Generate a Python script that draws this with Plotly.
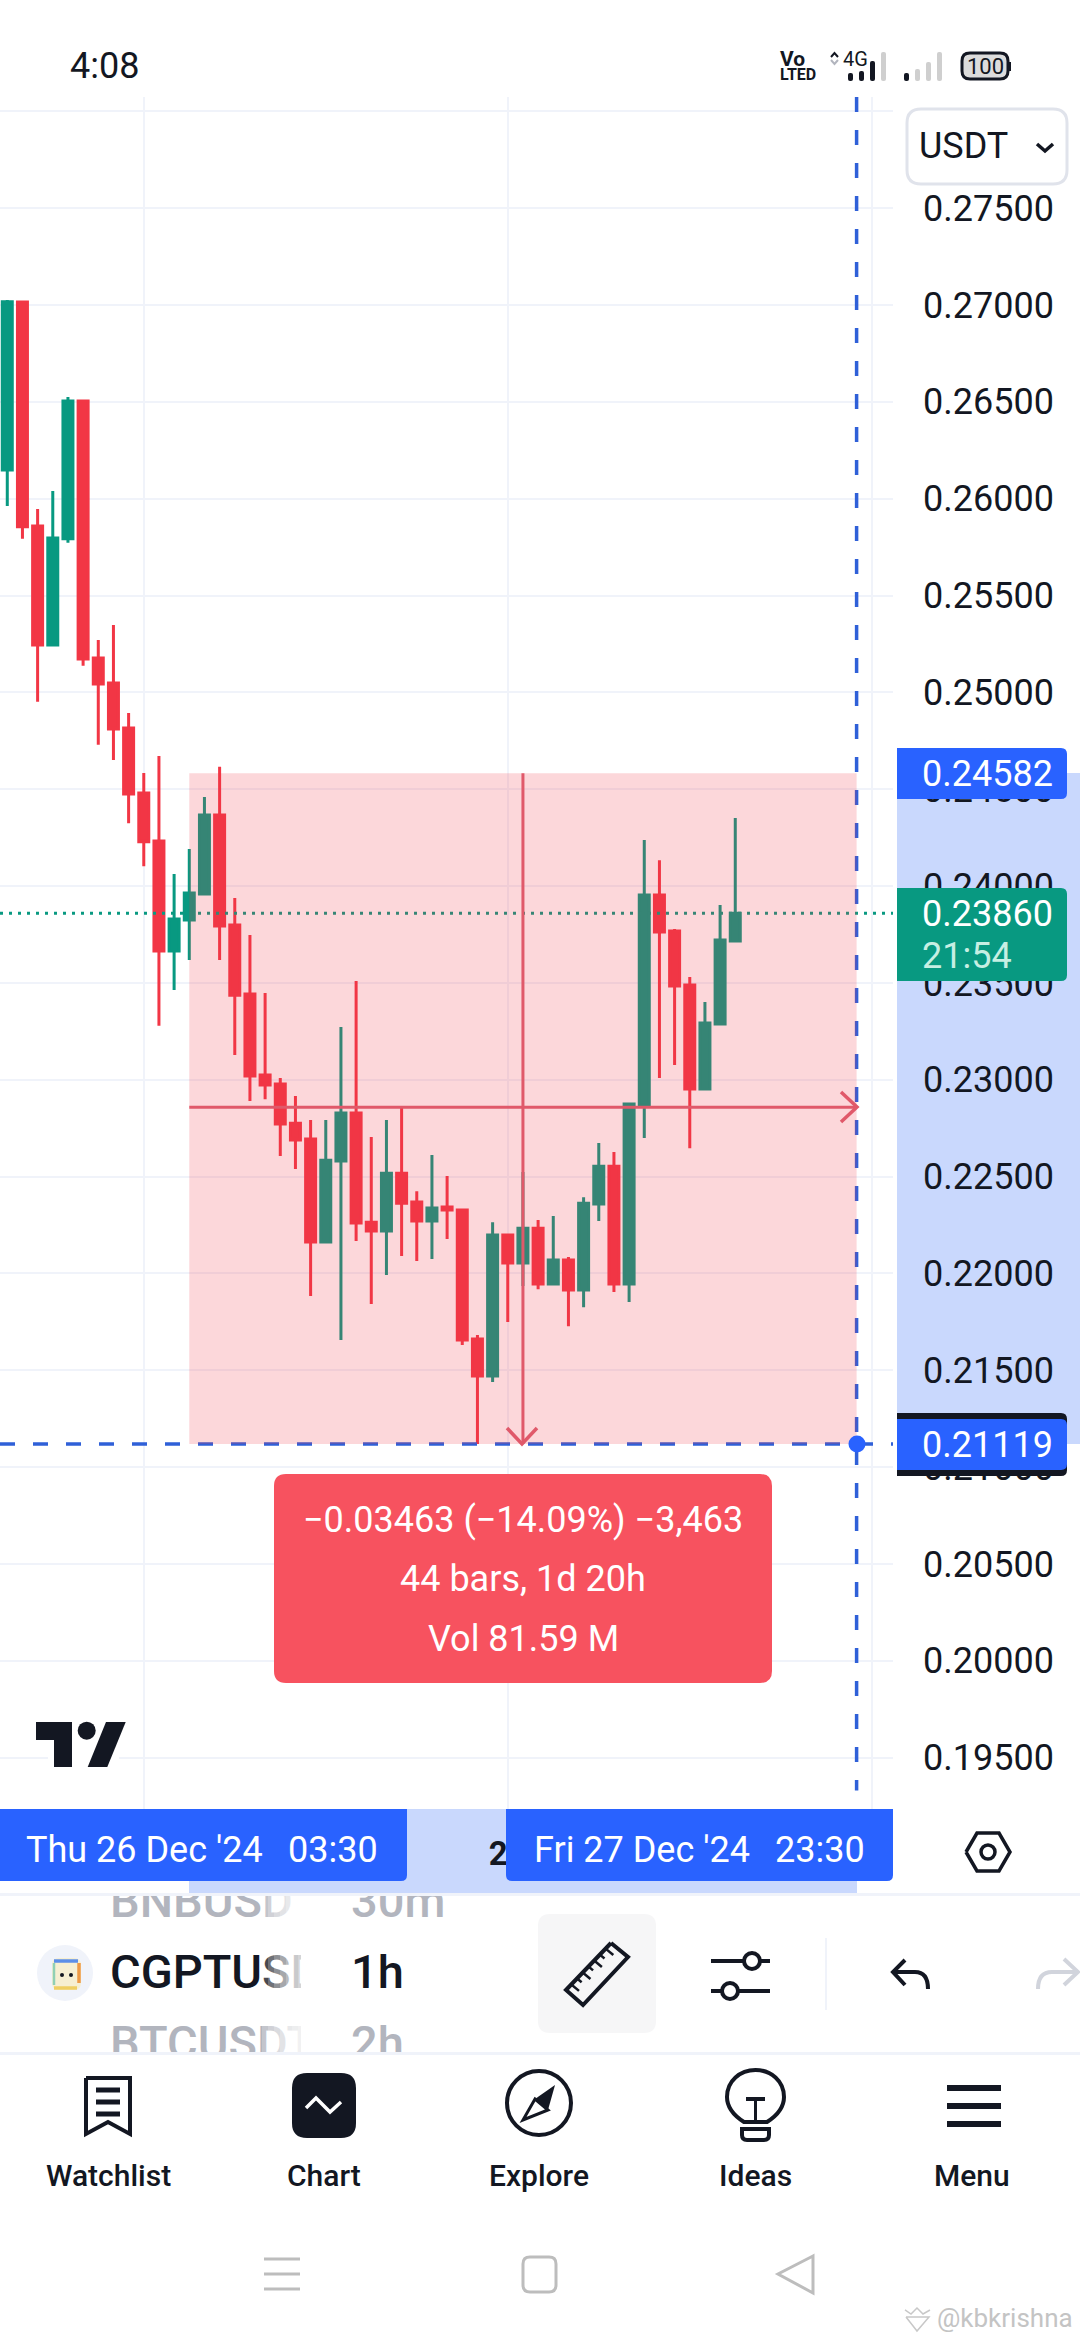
import pandas as pd
import plotly.graph_objects as go

# CGPTUSDT hourly candles
first_bar = "2024-12-25 15:30"
opens = [.26148, .27015, .25859, .25245, .25793, .26504, .25177, .25048, .24816, .24480,
         .24233, .23665, .23825, .23959, .24367, .23799, .23443, .23024, .22978, .22776,
         .22694, .22162, .22580, .22828, .22265, .22219, .22518, .22369, .22271, .22343,
         .22327, .21661, .21470, .22198, .22054, .22234, .21945, .22069, .21914, .22358,
         .22554, .21945, .22869, .23954, .23768, .23489, .22952, .23288, .23716]
highs = [.27026, .27015, .25947, .26040, .26525, .26504, .25270, .25348, .24893, .24584,
         .24671, .24062, .24191, .24460, .24616, .23938, .23747, .23448, .23009, .22916,
         .22792, .22792, .23272, .23510, .22704, .22792, .22859, .22425, .22611, .22503,
         .22332, .21682, .22265, .22198, .22524, .22276, .22296, .22085, .22394, .22673,
         .22627, .22875, .24238, .24134, .23778, .23530, .23401, .23902, .24351]
lows = [.25962, .25793, .24952, .25245, .25773, .25138, .24730, .24651, .24325, .24103,
        .23279, .23463, .23618, .23959, .23618, .23128, .22890, .22900, .22606, .22539,
        .21883, .22162, .21656, .22167, .21842, .21992, .22090, .22064, .22074, .22178,
        .21630, .21119, .21439, .21749, .21935, .21919, .21945, .21728, .21826, .22271,
        .21904, .21852, .22699, .23009, .23076, .22647, .22952, .23288, .23716]
closes = [.27017, .25855, .25245, .25797, .26504, .25172, .25043, .24811, .24475, .24229,
          .23665, .23830, .23964, .24367, .23794, .23437, .23019, .22973, .22771, .22689,
          .22162, .22585, .22828, .22260, .22219, .22518, .22363, .22271, .22338, .22327,
          .21656, .21470, .22198, .22054, .22234, .21945, .22069, .21914, .22363, .22554,
          .21945, .22875, .23954, .23763, .23484, .22952, .23293, .23721, .23860]

price_ticks = [.195, .200, .205, .210, .215, .220, .225, .230, .235, .240, .245, .250,
               .255, .260, .265, .270, .275, .280]
price_labels = [f"{p:.5f}" for p in price_ticks[:-1]] + [""]
day_ticks = ["2024-12-26 00:30", "2024-12-27 00:30", "2024-12-28 00:30"]
day_labels = ["<b>26</b>", "<b>27</b>", "<b>28</b>"]

measure_start = "2024-12-26 03:30"
measure_mid = "2024-12-27 01:30"
measure_end = "2024-12-27 23:30"
measure_high = 0.24582
measure_low = 0.21119
measure_centre = 0.22858
last_price = 0.23860

wheel_symbols = ["BNBUSD", "CGPTUSDT", "BTCUSDT"]
wheel_intervals = ["30m", "1h", "2h"]
nav_labels = ["Watchlist", "Chart", "Explore", "Ideas", "Menu"]

W, H = 1080, 2340
INK = "#131722"
BLUE = "#2962ff"
DASH_BLUE = "#2f60d8"
GREEN = "#089981"
RED = "#f23645"
PALE_BLUE = "#c9d8fd"
GRID = "#f0f3fa"
NAV_GREY = "#bdbdbd"


def fx(x):
    return x / W


def fy(y):
    return 1 - y / H


def path(*cmds):
    out = []
    for c in cmds:
        nums = c[1:]
        pairs = [f"{fx(nums[i]):.6f},{fy(nums[i + 1]):.6f}" for i in range(0, len(nums), 2)]
        out.append(c[0] + " ".join(pairs))
    return " ".join(out)


shapes = []
texts = []


def draw(p, fill=None, line=None, lw=0, layer="above"):
    shapes.append(dict(type="path", path=p, xref="paper", yref="paper", layer=layer,
                       fillcolor=fill or "rgba(0,0,0,0)",
                       line=dict(color=line or "rgba(0,0,0,0)", width=lw)))


def box(x0, y0, x1, y1, fill=None, line=None, lw=0, layer="above"):
    draw(path(("M", x0, y0), ("L", x1, y0), ("L", x1, y1), ("L", x0, y1), ("Z",)),
         fill, line, lw, layer)


def rbox(x0, y0, x1, y1, r, fill=None, line=None, lw=0, corners="tl tr br bl"):
    tl, tr, br, bl = [r if k in corners else 0 for k in ("tl", "tr", "br", "bl")]
    draw(path(("M", x0 + tl, y0), ("L", x1 - tr, y0), ("Q", x1, y0, x1, y0 + tr),
              ("L", x1, y1 - br), ("Q", x1, y1, x1 - br, y1),
              ("L", x0 + bl, y1), ("Q", x0, y1, x0, y1 - bl),
              ("L", x0, y0 + tl), ("Q", x0, y0, x0 + tl, y0), ("Z",)),
         fill, line, lw)


def stroke(points, color=INK, lw=4):
    cmds = [("M", *points[0])] + [("L", *p) for p in points[1:]]
    draw(path(*cmds), None, color, lw)


def disc(cx, cy, r, fill=None, line=None, lw=0):
    shapes.append(dict(type="circle", xref="paper", yref="paper", layer="above",
                       x0=fx(cx - r), x1=fx(cx + r), y0=fy(cy + r), y1=fy(cy - r),
                       fillcolor=fill or "rgba(0,0,0,0)",
                       line=dict(color=line or "rgba(0,0,0,0)", width=lw)))


def label(x, y, text, size=36, color=INK, anchor="left", weight=400):
    texts.append(dict(x=fx(x), y=fy(y), xref="paper", yref="paper", text=text, showarrow=False,
                      xanchor=anchor, yanchor="middle", borderpad=0, borderwidth=0,
                      font=dict(family="Roboto", size=size, color=color, weight=weight)))


def on_chart(x0, y0, x1, y1, color, width, dash="solid"):
    shapes.append(dict(type="line", xref="x", yref="y", layer="above", x0=x0, x1=x1, y0=y0, y1=y1,
                       line=dict(color=color, width=width, dash=dash)))


# Highlights on the two axes, beneath the tick labels
box(897, 773, 1080, 1444, PALE_BLUE, layer="below")
box(189, 1809, 857, 1893, PALE_BLUE, layer="below")

chart_left = pd.Timestamp(first_bar) - pd.Timedelta(hours=0.48)
chart_right = pd.Timestamp(first_bar) + pd.Timedelta(hours=58.4)

# Last price, then the measuring overlay
on_chart(chart_left, last_price, chart_right, last_price, GREEN, 3, "3px,6px")
DASH = "15px,18px"
on_chart(measure_end, 0.28074, measure_end, 0.1933, DASH_BLUE, 3.5, DASH)
on_chart(chart_left, measure_low, chart_right, measure_low, DASH_BLUE, 3.5, DASH)
shapes.append(dict(type="rect", xref="x", yref="y", layer="above", x0=measure_start, x1=measure_end,
                   y0=measure_low, y1=measure_high, fillcolor="rgba(242,54,69,0.2)",
                   line=dict(width=0)))
on_chart(measure_start, measure_centre, measure_end, measure_centre, "#e0596a", 3)
on_chart(measure_mid, measure_high, measure_mid, measure_low, "#e0596a", 3)
stroke([(841, 1092), (857, 1107), (841, 1122)], "#e0596a", 3.5)
stroke([(507, 1428), (522, 1444), (537, 1428)], "#e0596a", 3.5)
disc(857, 1444, 8.5, BLUE)

# Broker logo on a clear patch of the pane
box(48, 1748, 119, 1770, "#ffffff")
draw(path(("M", 36, 1722), ("L", 72, 1722), ("L", 72, 1767), ("L", 54, 1767), ("L", 54, 1740),
          ("L", 36, 1740), ("Z",)), INK)
disc(86.7, 1730.7, 9, INK)
draw(path(("M", 106, 1722), ("L", 125.7, 1722), ("L", 107.3, 1767), ("L", 87.7, 1767), ("Z",)), INK)

# Measure result card
rbox(274, 1474, 772, 1683, 12, "#f7525f")
label(523, 1520, "−0.03463 (−14.09%) −3,463", 36, "#ffffff", "center")
label(523, 1579, "44 bars, 1d 20h", 36, "#ffffff", "center")
label(523, 1639, "Vol 81.59 M", 36, "#ffffff", "center")

# Price tags over the axis
rbox(897, 748, 1067, 799, 6, BLUE, corners="tr br")
label(922, 774, f"{measure_high:.5f}", 36, "#ffffff")
rbox(897, 888, 1067, 981, 6, GREEN, corners="tr br")
label(922, 914, f"{last_price:.5f}", 36, "#ffffff")
label(922, 956, "21:54", 36, "#c6efe3")
rbox(897, 1413, 1067, 1476, 6, INK, corners="tr br")
rbox(897, 1419, 1067, 1470, 6, BLUE, corners="tr br")
label(922, 1445, f"{measure_low:.5f}", 36, "#ffffff")

# Time tags over the axis
rbox(-6, 1809, 407, 1881, 6, BLUE, corners="br bl")
label(26, 1850, "Thu 26 Dec '24", 36, "#ffffff")
label(378, 1850, "03:30", 36, "#ffffff", "right")
rbox(506, 1809, 893, 1881, 6, BLUE, corners="br bl")
label(534, 1850, "Fri 27 Dec '24", 36, "#ffffff")
label(865, 1850, "23:30", 36, "#ffffff", "right")

# Currency selector
rbox(907, 109, 1067, 184, 14, "#ffffff", "#e0e3eb", 3)
label(919, 146, "USDT", 36)
stroke([(1037, 144), (1045, 151), (1053, 144)], INK, 3.5)

# Hexagon settings button
stroke([(966, 1852), (977, 1833), (999, 1833), (1010, 1852), (999, 1871), (977, 1871), (966, 1852)], INK, 3.5)
disc(988, 1852, 7, None, INK, 3.5)

# Status bar
label(70, 66, "4:08", 36, INK)
label(780, 59, "<b>Vo</b>", 21)
label(780, 74, "<b>LTED</b>", 16)
label(843, 59, "4G", 20)
stroke([(831, 57), (834.5, 53), (838, 57)], INK, 2)
stroke([(831, 60), (834.5, 64), (838, 60)], "#b2b5be", 2)
for x0, top, col in [(848, 73, INK), (859, 71, INK), (870, 61, INK), (881, 52, "#cfcfcf"),
                     (904, 73, INK), (915, 69, "#cfcfcf"), (926, 62, "#cfcfcf"), (937, 52, "#cfcfcf")]:
    rbox(x0, top, x0 + 5, 81, 2, col)
rbox(962, 53, 1008, 79, 8, "#dcdcdc", INK, 3)
box(1008, 62, 1011, 71, INK)
label(985.5, 66, "100", 22, INK, "center")

# Separators above and below the toolbar
box(0, 1893, W, 1896, GRID)
box(0, 2052, W, 2055, GRID)

# Fade of the symbol name at the edge of its column
for x0 in range(262, 300, 6):
    box(x0, 1896, 301, 2052, "rgba(255,255,255,0.22)")

# Symbol icon
disc(65, 1973, 28, "#f0f3fa")
rbox(52, 1958, 81, 1990, 7, "#f6efd2")
stroke([(54, 1961), (78, 1961)], "#5c8fe8", 3.5)
stroke([(79, 1963), (79, 1983)], "#ee9a45", 3.5)
stroke([(54, 1988), (77, 1988)], "#efcf63", 3.5)
stroke([(54, 1963), (54, 1985)], "#8fd0b5", 2.5)
disc(62, 1975, 2, INK)
disc(71, 1975, 2, INK)

# Ruler tool, currently active
rbox(538, 1914, 656, 2033, 12, "#f6f6f7")
stroke([(611, 1943), (628, 1957), (583, 2005), (566, 1990), (611, 1943)], INK, 4)
for k in range(7):
    t = 0.12 + k * 0.127
    sx, sy = 611 - 45 * t, 1943 + 47 * t
    reach = 10 if k % 2 == 0 else 6
    stroke([(sx, sy), (sx + 0.77 * reach, sy + 0.64 * reach)], INK, 2.5)

# Sliders
stroke([(711, 1961), (743, 1961)], INK, 4)
stroke([(761, 1961), (770, 1961)], INK, 4)
disc(752, 1961, 8, None, INK, 4)
stroke([(711, 1991), (721, 1991)], INK, 4)
stroke([(739, 1991), (770, 1991)], INK, 4)
disc(730, 1991, 8, None, INK, 4)
box(825, 1938, 827, 2010, GRID)

# Undo and redo
draw(path(("M", 905, 1960), ("L", 893, 1972), ("L", 905, 1985)), None, INK, 4)
draw(path(("M", 893, 1972), ("L", 915, 1972), ("Q", 928, 1972, 928, 1989)), None, INK, 4)
draw(path(("M", 1038, 1989), ("Q", 1038, 1972, 1052, 1972), ("L", 1078, 1972)), None, "#d1d4dc", 4)
draw(path(("M", 1064, 1959), ("L", 1078, 1972), ("L", 1064, 1985)), None, "#d1d4dc", 4)

# Bottom navigation icons
stroke([(86, 2078), (130, 2078), (130, 2134), (108, 2122), (86, 2134), (86, 2078)], INK, 4)
for y in (2090, 2102, 2114):
    box(96, y - 2.5, 120, y + 2.5, INK)
rbox(292, 2073, 356, 2138, 15, INK)
stroke([(306, 2108), (316, 2098), (330, 2112), (341, 2102)], "#ffffff", 3.5)
disc(539, 2103, 32, None, INK, 4)
draw(path(("M", 555, 2085), ("L", 548, 2110), ("L", 535, 2099), ("Z",)), INK)
draw(path(("M", 535, 2099), ("L", 548, 2110), ("L", 523, 2120), ("Z",)), None, INK, 3)
draw(path(("M", 744, 2122), ("C", 733, 2115, 727, 2107, 727, 2097), ("C", 727, 2081, 740, 2070, 755.5, 2070),
          ("C", 771, 2070, 784, 2081, 784, 2097), ("C", 784, 2107, 778, 2115, 767, 2122), ("Z",)), None, INK, 4)
box(746, 2097, 765, 2101, INK)
box(754, 2099, 757, 2122, INK)
draw(path(("M", 742, 2129), ("L", 769, 2129), ("L", 769, 2135), ("Q", 769, 2140, 764, 2140),
          ("L", 747, 2140), ("Q", 742, 2140, 742, 2135), ("Z",)), None, INK, 4)
for y in (2088, 2106, 2124):
    box(947, y - 3, 1001, y + 3, INK)
for name, cx in zip(nav_labels, (108, 324, 539, 755.5, 972)):
    label(cx, 2175, name, 30, INK, "center", 500)

# Android navigation bar
for y in (2259, 2274, 2289):
    box(264, y - 1.5, 300, y + 1.5, NAV_GREY)
rbox(523, 2257, 556, 2292, 7, None, NAV_GREY, 3)
draw(path(("M", 813, 2256), ("L", 778, 2274), ("L", 813, 2293), ("Z",)), None, NAV_GREY, 3)

# Handle in the corner
stroke([(906, 2317), (917, 2331), (929, 2317), (906, 2317)], "#c8c8c8", 1.5)
stroke([(905, 2310), (911, 2314), (917, 2308), (923, 2314), (930, 2310)], "#c8c8c8", 1.5)
label(937, 2318, "@kbkrishna", 26, "#c4c4c4")

times = pd.date_range(first_bar, periods=len(closes), freq="h")

candles = go.Candlestick(
    x=times, open=opens, high=highs, low=lows, close=closes,
    increasing=dict(line=dict(color=GREEN, width=3), fillcolor=GREEN),
    decreasing=dict(line=dict(color=RED, width=3), fillcolor=RED),
    whiskerwidth=0, showlegend=False, hoverinfo="skip",
)

# Scrolling symbol and interval wheels, each clipped to its own small pane
rows = [0, 1, 2]
wheel_colors = ["#b2b5be", INK, "#b2b5be"]
wheel_names = go.Scatter(
    x=[0] * 3, y=rows, text=wheel_symbols, mode="text", textposition="middle right",
    textfont=dict(family="Roboto", size=47, color=wheel_colors, weight=500),
    xaxis="x2", yaxis="y2", cliponaxis=True, showlegend=False, hoverinfo="skip",
)
wheel_times = go.Scatter(
    x=[0] * 3, y=rows, text=wheel_intervals, mode="text", textposition="middle right",
    textfont=dict(family="Roboto", size=47, color=wheel_colors, weight=500),
    xaxis="x3", yaxis="y3", cliponaxis=True, showlegend=False, hoverinfo="skip",
)

WHEEL_ROWS = [2.07, -0.127]

fig = go.Figure([candles, wheel_names, wheel_times])
fig.update_layout(
    width=W, height=H, margin=dict(l=0, r=0, t=0, b=0), autosize=False,
    paper_bgcolor="#ffffff", plot_bgcolor="#ffffff", showlegend=False, hovermode=False,
    font=dict(family="Roboto", color=INK), boxgap=0.341, boxgroupgap=0,
    xaxis=dict(domain=[0, fx(893)], range=[chart_left, chart_right], type="date",
               rangeslider=dict(visible=False), tickmode="array", tickvals=day_ticks, ticktext=day_labels,
               tickfont=dict(family="Roboto", size=33, color=INK), ticklen=0, ticklabelstandoff=22,
               showgrid=True, gridcolor=GRID, gridwidth=2, showline=False, zeroline=False),
    yaxis=dict(domain=[fy(1809), fy(97)], range=[0.19235, 0.28074], side="right",
               tickmode="array", tickvals=price_ticks, ticktext=price_labels,
               tickfont=dict(family="Roboto", size=36, color=INK), ticklen=0, ticklabelstandoff=29,
               showgrid=True, gridcolor=GRID, gridwidth=2, showline=False, zeroline=False),
    xaxis2=dict(domain=[fx(110), fx(301)], range=[0, 191], visible=False, anchor="y2"),
    yaxis2=dict(domain=[fy(2052), fy(1896)], range=WHEEL_ROWS, visible=False, anchor="x2"),
    xaxis3=dict(domain=[fx(351), fx(500)], range=[0, 149], visible=False, anchor="y3"),
    yaxis3=dict(domain=[fy(2052), fy(1896)], range=WHEEL_ROWS, visible=False, anchor="x3"),
    shapes=shapes, annotations=texts,
)
fig.write_html("out.html", config=dict(displayModeBar=False))
